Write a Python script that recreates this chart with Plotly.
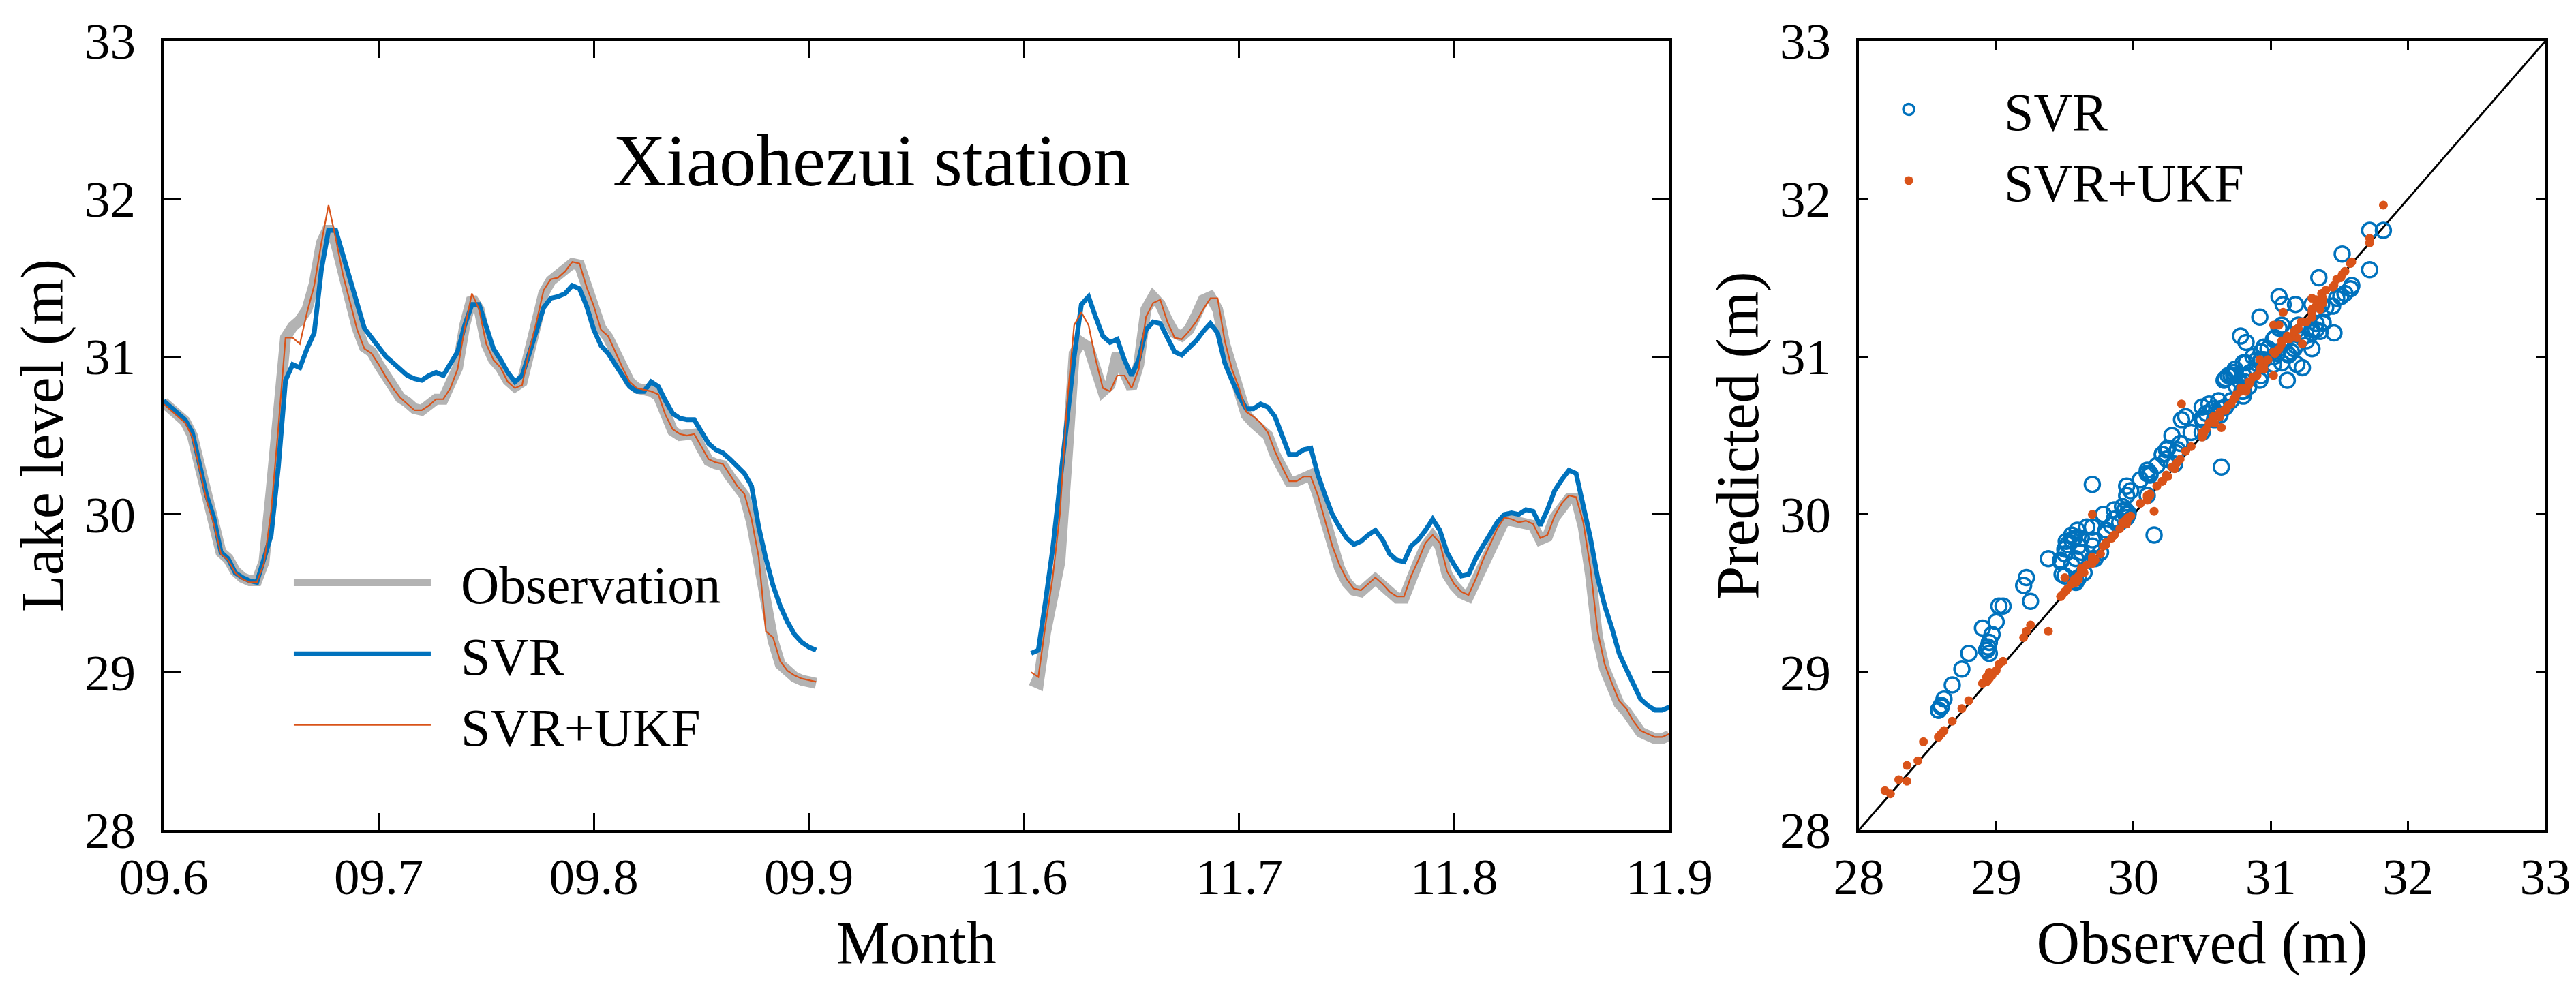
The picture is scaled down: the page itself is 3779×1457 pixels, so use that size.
import plotly.graph_objects as go

# ---------------- data ----------------
tick_days = [0, 30, 60, 90, 120, 150, 180, 210]
tick_labels = ["09.6", "09.7", "09.8", "09.9", "11.6", "11.7", "11.8", "11.9"]

start_a = 0      # first day of segment A (09.6 ...)
start_b = 121    # first day of segment B (11.6 ...)

obs_a = [30.71, 30.67, 30.63, 30.59, 30.50, 30.30, 30.10, 29.95, 29.76, 29.72,
         29.64, 29.60, 29.58, 29.58, 29.70, 30.15, 30.64, 31.12, 31.19, 31.23,
         31.30, 31.46, 31.72, 31.82, 31.72, 31.52, 31.35, 31.18, 31.06, 31.03,
         30.95, 30.87, 30.80, 30.74, 30.71, 30.67, 30.66, 30.69, 30.73, 30.73,
         30.82, 30.93, 31.20, 31.37, 31.30, 31.08, 30.98, 30.93, 30.85, 30.81,
         30.84, 31.05, 31.22, 31.40, 31.48, 31.51, 31.54, 31.59, 31.58, 31.45,
         31.33, 31.18, 31.12, 31.02, 30.93, 30.84, 30.80, 30.79, 30.78, 30.75,
         30.62, 30.53, 30.50, 30.50, 30.51, 30.42, 30.34, 30.32, 30.31, 30.24,
         30.17, 30.12, 29.95, 29.70, 29.38, 29.20, 29.05, 29.00, 28.97, 28.95,
         28.94, 28.93]
svr_a = [30.72, 30.68, 30.63, 30.60, 30.52, 30.32, 30.12, 29.98, 29.76, 29.72,
         29.63, 29.60, 29.58, 29.57, 29.72, 29.87, 30.30, 30.85, 30.95, 30.93,
         31.05, 31.15, 31.55, 31.80, 31.80, 31.65, 31.50, 31.33, 31.18, 31.12,
         31.06, 31.00, 30.96, 30.92, 30.88, 30.86, 30.85, 30.88, 30.90, 30.88,
         30.96, 31.03, 31.20, 31.33, 31.33, 31.20, 31.05, 30.98, 30.90, 30.84,
         30.88, 31.02, 31.16, 31.31, 31.37, 31.38, 31.40, 31.45, 31.43, 31.32,
         31.17, 31.07, 31.02, 30.95, 30.88, 30.81, 30.78, 30.78, 30.84, 30.81,
         30.72, 30.64, 30.61, 30.60, 30.60, 30.52, 30.45, 30.41, 30.39, 30.35,
         30.31, 30.26, 30.18, 29.92, 29.72, 29.55, 29.42, 29.32, 29.24, 29.19,
         29.16, 29.14]
ukf_a = [30.70, 30.66, 30.62, 30.58, 30.49, 30.29, 30.09, 29.94, 29.75, 29.71,
         29.63, 29.59, 29.57, 29.57, 29.69, 30.02, 30.55, 31.12, 31.12, 31.08,
         31.28, 31.45, 31.72, 31.96, 31.75, 31.52, 31.35, 31.17, 31.05, 31.02,
         30.95, 30.87, 30.80, 30.74, 30.70, 30.66, 30.66, 30.69, 30.73, 30.73,
         30.80, 30.92, 31.18, 31.40, 31.30, 31.08, 30.98, 30.93, 30.84, 30.80,
         30.82, 31.04, 31.22, 31.42, 31.49, 31.50, 31.54, 31.60, 31.59, 31.44,
         31.32, 31.17, 31.13, 31.03, 30.93, 30.84, 30.80, 30.79, 30.78, 30.76,
         30.63, 30.54, 30.51, 30.50, 30.51, 30.43, 30.35, 30.33, 30.32, 30.25,
         30.18, 30.13, 29.97, 29.73, 29.26, 29.22, 29.07, 29.01, 28.98, 28.96,
         28.95, 28.94]

obs_b = [28.95, 28.93, 29.25, 29.50, 29.70, 30.35, 31.02, 31.09, 31.06, 30.92,
         30.78, 30.82, 31.02, 30.90, 30.80, 30.95, 31.30, 31.38, 31.33, 31.23,
         31.15, 31.13, 31.17, 31.26, 31.36, 31.38, 31.30, 31.08, 30.92, 30.80,
         30.63, 30.58, 30.55, 30.50, 30.38, 30.28, 30.21, 30.21, 30.24, 30.25,
         30.12, 29.95, 29.78, 29.66, 29.57, 29.52, 29.51, 29.55, 29.59, 29.55,
         29.50, 29.47, 29.47, 29.60, 29.70, 29.80, 29.86, 29.80, 29.62, 29.55,
         29.50, 29.48, 29.58, 29.70, 29.80, 29.90, 29.96, 29.96, 29.95, 29.94,
         29.93, 29.84, 29.86, 29.98, 30.05, 30.10, 30.10, 29.92, 29.62, 29.22,
         29.02, 28.90, 28.80, 28.75, 28.68, 28.62, 28.60, 28.58, 28.58, 28.60]
svr_b = [29.12, 29.14, 29.45, 29.78, 30.19, 30.60, 31.00, 31.33, 31.38, 31.25,
         31.13, 31.09, 31.11, 30.98, 30.88, 30.98, 31.17, 31.22, 31.21, 31.12,
         31.03, 31.01, 31.05, 31.10, 31.16, 31.21, 31.15, 30.96, 30.85, 30.75,
         30.67, 30.67, 30.70, 30.68, 30.62, 30.50, 30.38, 30.38, 30.41, 30.42,
         30.25, 30.12, 30.00, 29.92, 29.85, 29.81, 29.83, 29.87, 29.90, 29.84,
         29.75, 29.71, 29.70, 29.80, 29.84, 29.90, 29.97, 29.90, 29.76, 29.68,
         29.61, 29.62, 29.72, 29.80, 29.88, 29.95, 30.00, 30.01, 30.00, 30.03,
         30.02, 29.93, 30.03, 30.15, 30.22, 30.28, 30.26, 30.05, 29.85, 29.60,
         29.42, 29.28, 29.12, 29.02, 28.92, 28.83, 28.79, 28.76, 28.76, 28.78]
ukf_b = [29.00, 28.97, 29.30, 29.60, 30.00, 30.70, 31.20, 31.28, 31.20, 30.98,
         30.80, 30.78, 30.88, 30.88, 30.80, 30.92, 31.25, 31.34, 31.36, 31.22,
         31.12, 31.11, 31.16, 31.22, 31.30, 31.37, 31.37, 31.10, 30.92, 30.80,
         30.65, 30.62, 30.58, 30.52, 30.40, 30.30, 30.21, 30.21, 30.24, 30.24,
         30.12, 29.96, 29.80, 29.68, 29.59, 29.53, 29.52, 29.56, 29.60, 29.56,
         29.51, 29.48, 29.48, 29.61, 29.71, 29.82, 29.87, 29.82, 29.64, 29.56,
         29.51, 29.49, 29.59, 29.71, 29.81, 29.91, 29.98, 29.97, 29.95, 29.96,
         29.94, 29.85, 29.87, 29.99, 30.07, 30.12, 30.11, 29.95, 29.66, 29.26,
         29.05, 28.93, 28.82, 28.77, 28.69, 28.63, 28.61, 28.59, 28.59, 28.61]

# additional low-level SVR+UKF scatter points (observed, predicted)
extra_obs = [28.19, 28.23, 28.29, 28.35, 28.35, 28.43, 28.47]
extra_ukf = [28.25, 28.23, 28.32, 28.31, 28.41, 28.44, 28.56]

level_range = [28, 33]
level_ticks = [28, 29, 30, 31, 32, 33]

# ---------------- build ----------------
days_a = list(range(start_a, start_a + len(obs_a)))
days_b = list(range(start_b, start_b + len(obs_b)))
x_line = days_a + [None] + days_b
obs_line = obs_a + [None] + obs_b
svr_line = svr_a + [None] + svr_b
ukf_line = ukf_a + [None] + ukf_b
obs_all = obs_a + obs_b
svr_all = svr_a + svr_b
ukf_obs_all = obs_a + obs_b + extra_obs
ukf_all = ukf_a + ukf_b + extra_ukf

FONT = "Liberation Serif"
GRAY = "#B3B3B3"
BLUE = "#0072BD"
ORANGE = "#D95319"
NB = "\u00a0\u00a0"

fig = go.Figure()

fig.add_trace(go.Scatter(x=x_line, y=obs_line, mode="lines", name=NB + "Observation",
                         line=dict(color=GRAY, width=16), legend="legend",
                         xaxis="x", yaxis="y"))
fig.add_trace(go.Scatter(x=x_line, y=svr_line, mode="lines", name=NB + "SVR",
                         line=dict(color=BLUE, width=7), legend="legend",
                         xaxis="x", yaxis="y"))
fig.add_trace(go.Scatter(x=x_line, y=ukf_line, mode="lines", name=NB + "SVR+UKF",
                         line=dict(color=ORANGE, width=2.2), legend="legend",
                         xaxis="x", yaxis="y"))

# 1:1 line
fig.add_trace(go.Scatter(x=level_range, y=level_range, mode="lines",
                         line=dict(color="black", width=3), showlegend=False,
                         xaxis="x2", yaxis="y2", hoverinfo="skip"))
fig.add_trace(go.Scatter(x=obs_all, y=svr_all, mode="markers", name="SVR",
                         marker=dict(symbol="circle-open", size=22, color=BLUE,
                                     line=dict(width=3.5, color=BLUE)),
                         legend="legend2", xaxis="x2", yaxis="y2"))
fig.add_trace(go.Scatter(x=ukf_obs_all, y=ukf_all, mode="markers", name="SVR+UKF",
                         marker=dict(symbol="circle", size=13, color=ORANGE),
                         legend="legend2", xaxis="x2", yaxis="y2"))

axis_common = dict(showline=True, linewidth=4, linecolor="black", mirror="ticks",
                   ticks="inside", tickwidth=3, tickcolor="black",
                   showgrid=False, zeroline=False, automargin=False,
                   tickfont=dict(family=FONT, size=75, color="black"))

yd = [0.1695, 0.9643]
fig.update_layout(
    width=3779, height=1457,
    margin=dict(l=0, r=0, t=0, b=0, autoexpand=False),
    paper_bgcolor="white", plot_bgcolor="white",
    font=dict(family=FONT, color="black"),
    xaxis=dict(domain=[0.0614, 0.6459], range=[tick_days[0], tick_days[-1]],
               tickvals=tick_days, ticktext=tick_labels, ticklen=25,
               title=dict(text="Month", font=dict(family=FONT, size=88), standoff=25),
               anchor="y", **axis_common),
    yaxis=dict(domain=yd, range=level_range, tickvals=level_ticks, ticklen=25,
               ticklabelstandoff=22,
               title=dict(text="Lake level (m)", font=dict(family=FONT, size=88), standoff=3),
               anchor="x", **axis_common),
    xaxis2=dict(domain=[0.7195, 0.9860], range=level_range, tickvals=level_ticks, ticklen=14,
                title=dict(text="Observed (m)", font=dict(family=FONT, size=88), standoff=25),
                anchor="y2", **axis_common),
    yaxis2=dict(domain=yd, range=level_range, tickvals=level_ticks, ticklen=14,
                ticklabelstandoff=22,
                title=dict(text="Predicted (m)", font=dict(family=FONT, size=88), standoff=3),
                anchor="x2", **axis_common),
    legend=dict(x=0.1106, y=0.458, xanchor="left", yanchor="top",
                font=dict(family=FONT, size=78), bgcolor="rgba(0,0,0,0)",
                itemwidth=201, tracegroupgap=0),
    legend2=dict(x=0.7018, y=0.9346, xanchor="left", yanchor="top",
                 font=dict(family=FONT, size=78), bgcolor="rgba(0,0,0,0)",
                 itemwidth=270),
    annotations=[dict(text="Xiaohezui station", x=0.3363, y=0.8442,
                      xref="paper", yref="paper", xanchor="center", yanchor="middle",
                      showarrow=False, font=dict(family=FONT, size=108, color="black"))],
)

fig.write_html("out.html")
